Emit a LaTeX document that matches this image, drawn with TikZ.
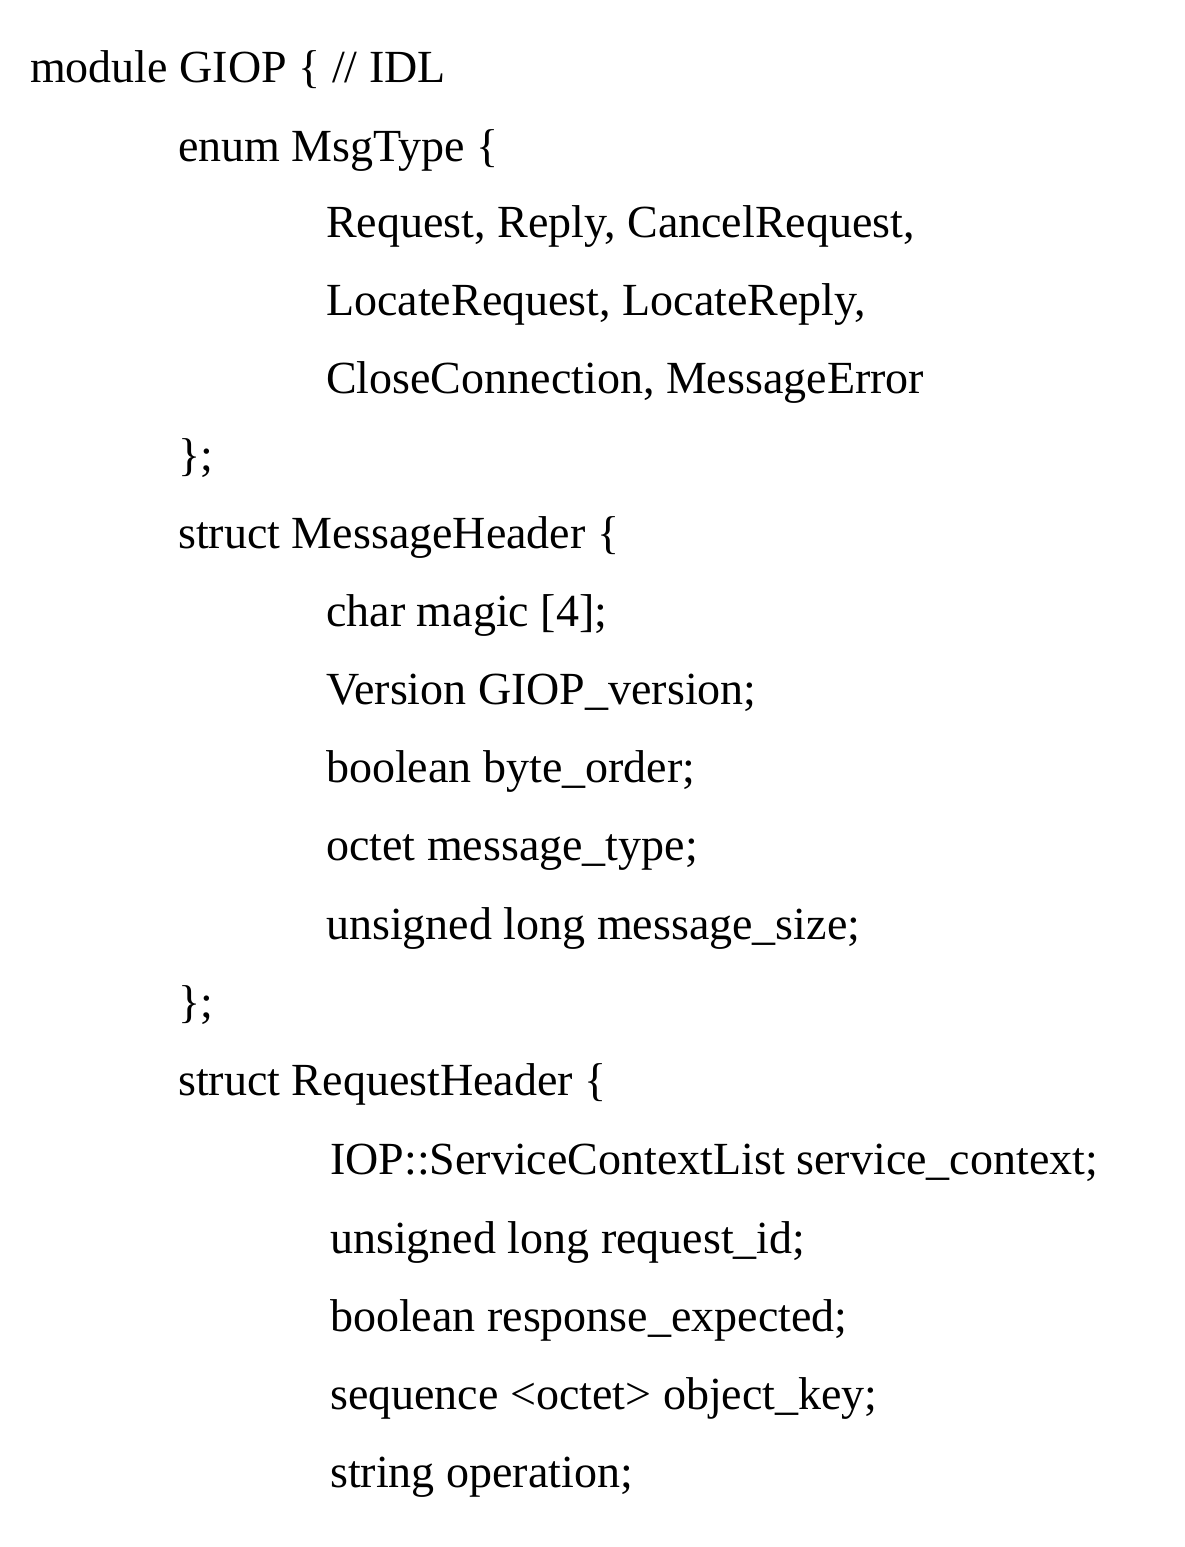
\documentclass[tikz,border=0pt]{standalone}
\usepackage{fontspec}
\setmainfont{Liberation Serif}
\begin{document}
\begin{tikzpicture}[x=1pt,y=-1pt,every node/.style={anchor=base west,inner sep=0pt,font=\fontsize{46}{52}\selectfont}]
\useasboundingbox (0,0) rectangle (1184,1547);
\node (l1) at (30,82) {module GIOP \{ // IDL};
\node (l2) at (178,161) {enum MsgType \{};
\node (l3) at (326,237) {Request, Reply, CancelRequest,};
\node (l4) at (326,315) {LocateRequest, LocateReply,};
\node (l5) at (326,393) {CloseConnection, MessageError};
\node (l6) at (178,470) {\};};
\node (l7) at (178,548) {struct MessageHeader \{};
\node (l8) at (326,626) {char magic [4];};
\node (l9) at (326,704) {Version GIOP\_version;};
\node (l10) at (326,782) {boolean byte\_order;};
\node (l11) at (326,860) {octet message\_type;};
\node (l12) at (326,939) {unsigned long message\_size;};
\node (l13) at (178,1017) {\};};
\node (l14) at (178,1095) {struct RequestHeader \{};
\node (l15) at (330,1174) {IOP::ServiceContextList service\_context;};
\node (l16) at (330,1253) {unsigned long request\_id;};
\node (l17) at (330,1331) {boolean response\_expected;};
\node (l18) at (330,1409) {sequence \textless octet\textgreater{} object\_key;};
\node (l19) at (330,1487) {string operation;};
\end{tikzpicture}
\end{document}
